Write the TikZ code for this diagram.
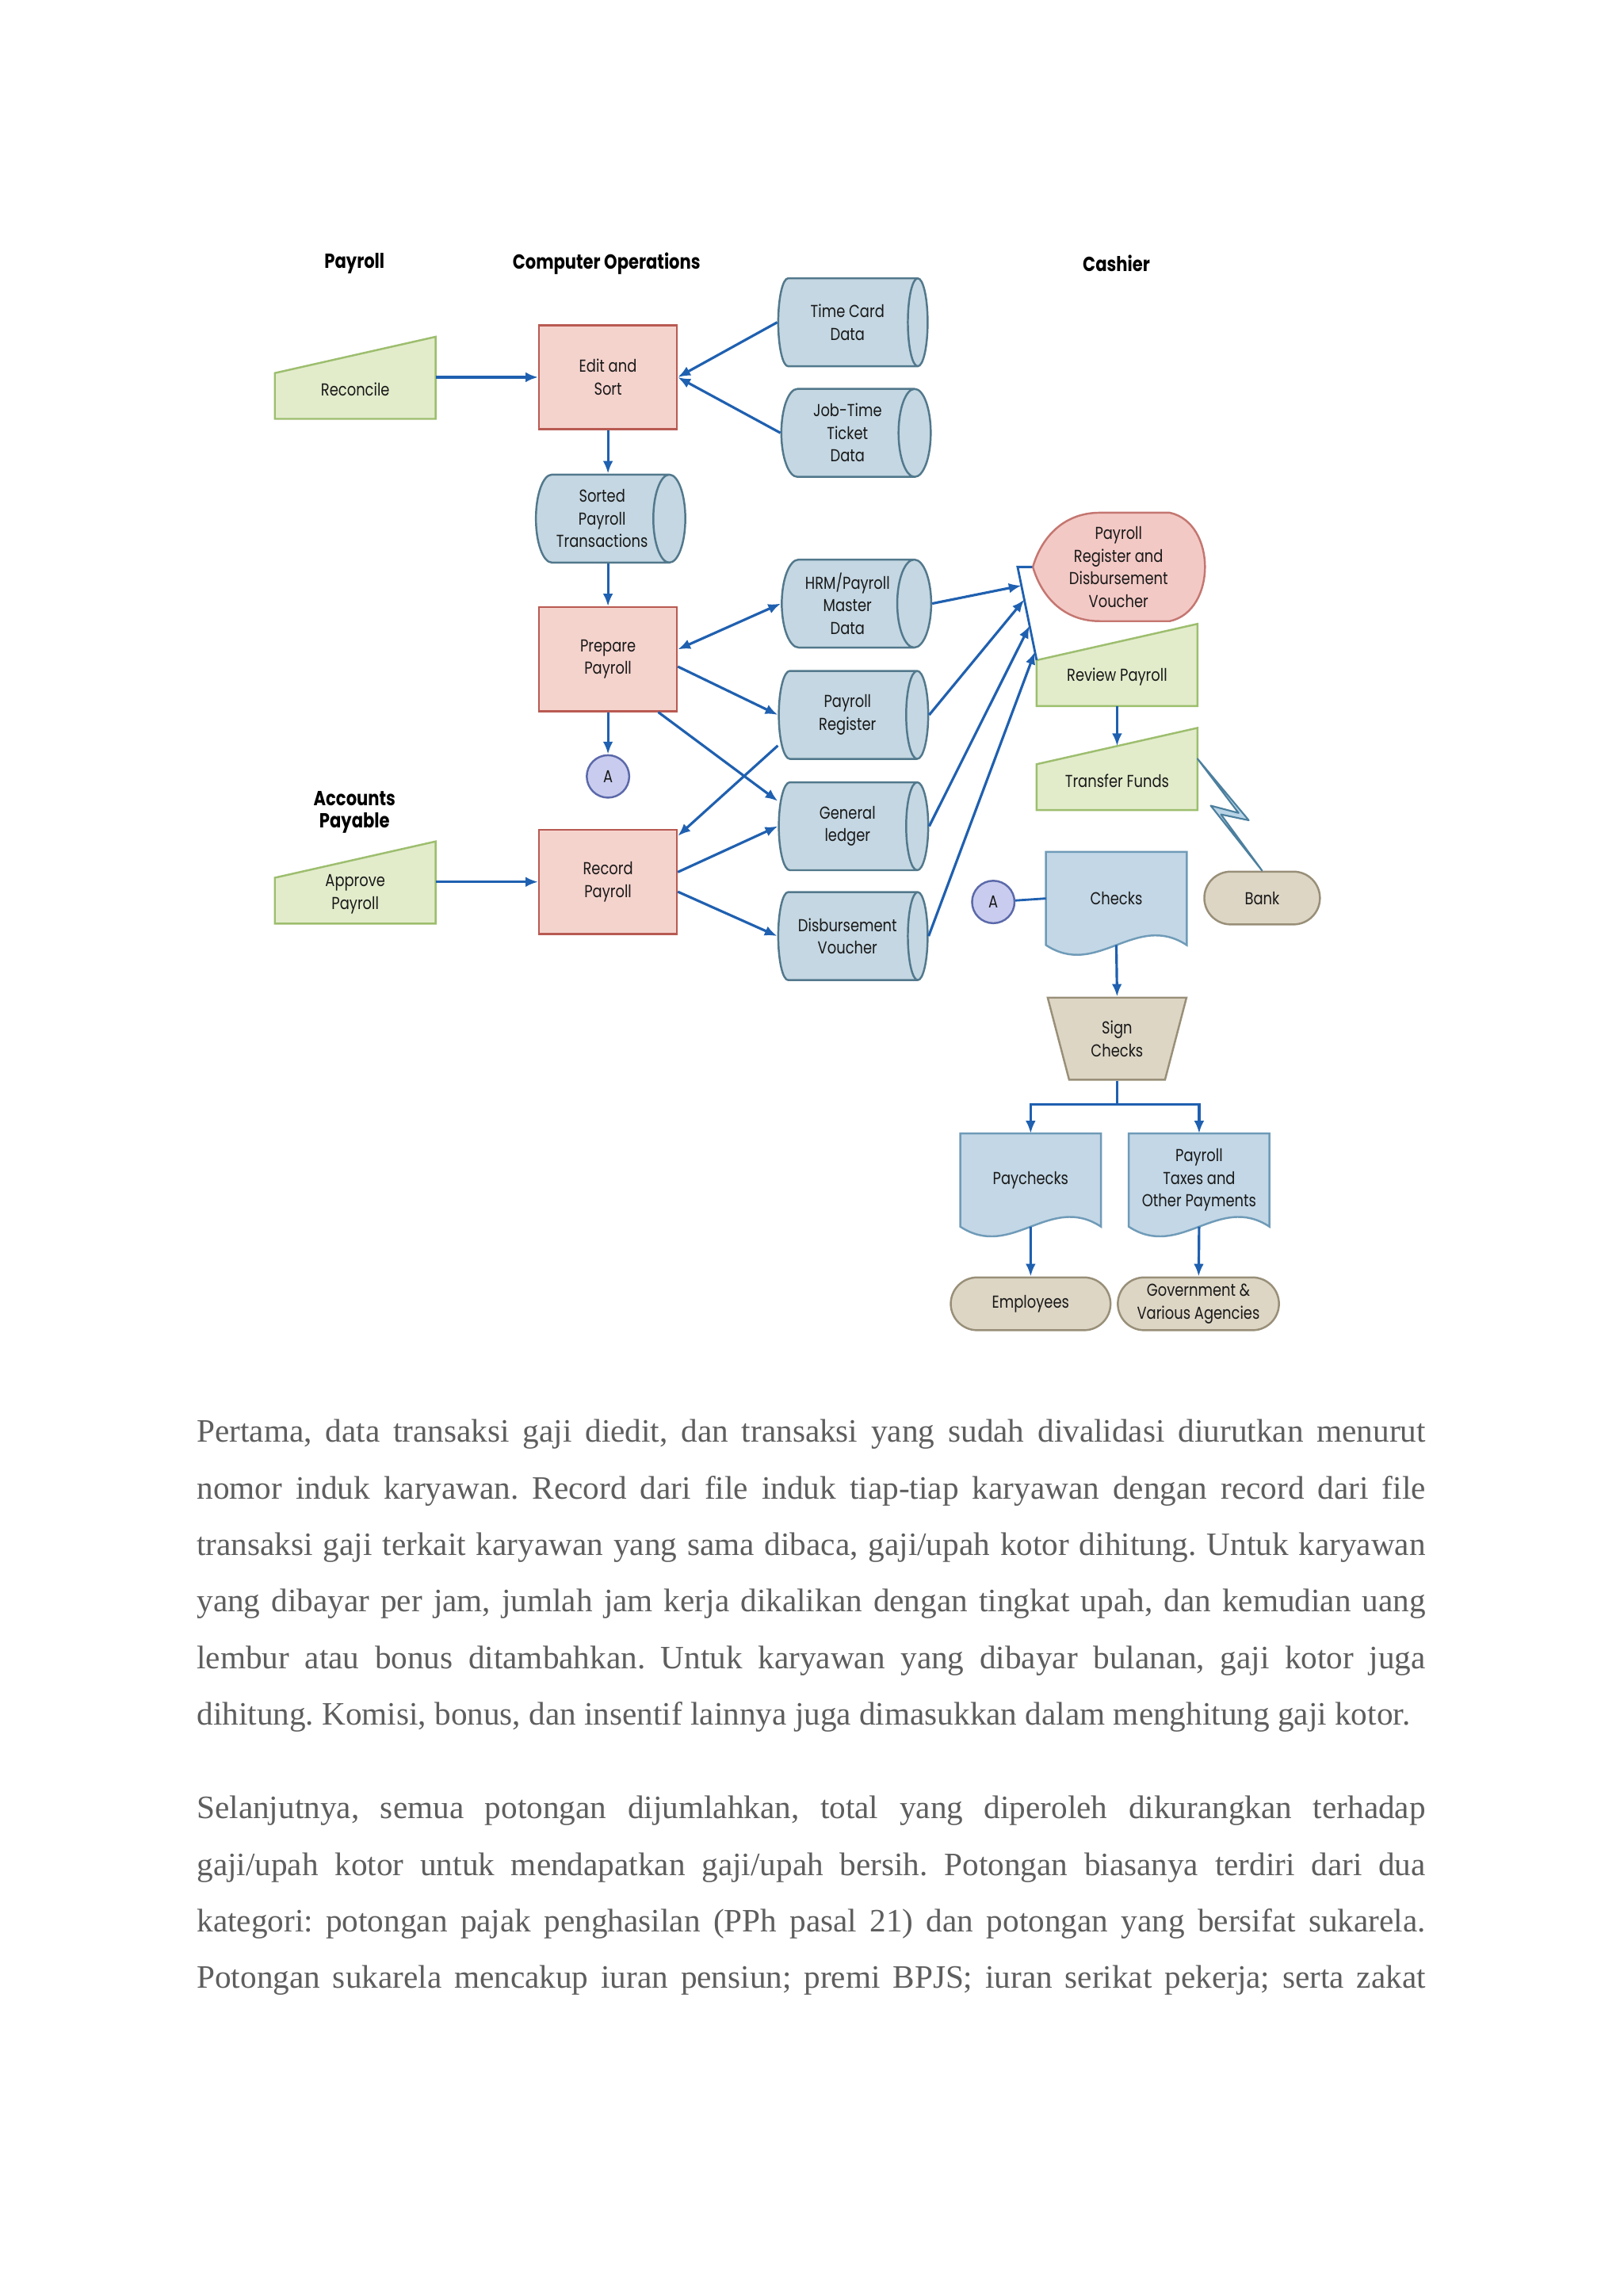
\documentclass[tikz,border=0pt]{standalone}
\usepackage{fontspec}
\usepackage{tikz}
\usetikzlibrary{arrows.meta,calc,shapes.geometric,shapes.misc,backgrounds}
\newfontfamily\chartfont[FakeStretch=0.82]{Poppins}
\newfontfamily\bodyfont{Liberation Serif}

\definecolor{arrowblue}{HTML}{1F60B0}
\definecolor{procfill}{HTML}{F5D3CD}
\definecolor{procdraw}{HTML}{B85A52}
\definecolor{manfill}{HTML}{E2ECCB}
\definecolor{mandraw}{HTML}{9DBE6E}
\definecolor{cylfill}{HTML}{C4D7E2}
\definecolor{cyldraw}{HTML}{52788C}
\definecolor{docfill}{HTML}{C3D7E6}
\definecolor{docdraw}{HTML}{6F9BB8}
\definecolor{termfill}{HTML}{DDD6C5}
\definecolor{termdraw}{HTML}{998F78}
\definecolor{confill}{HTML}{C9CCEE}
\definecolor{condraw}{HTML}{5B69AA}
\definecolor{dispfill}{HTML}{F3C9C5}
\definecolor{dispdraw}{HTML}{C47670}
\definecolor{boltfill}{HTML}{B8D4E6}
\definecolor{boltdraw}{HTML}{4C7F9E}
\definecolor{bodygray}{HTML}{5E5E5E}

\begin{document}
\begin{tikzpicture}[
    x=0.5246pt, y=-0.5246pt,
    >={Latex[length=4.5pt,width=3.6pt]},
    lbl/.style={font=\chartfont\fontsize{6.2pt}{8.1pt}\selectfont, align=center, text=black!90, inner sep=0pt},
    head/.style={font=\chartfont\bfseries\fontsize{7.3pt}{7.9pt}\selectfont, align=center, inner sep=0pt},
    process/.style={lbl, draw=procdraw, fill=procfill, line width=0.7pt, minimum width=49.3pt, minimum height=37.2pt},
    datafile/.style={lbl, cylinder, shape aspect=0.55, draw=cyldraw, fill=cylfill, line width=0.7pt, minimum height=53.5pt, minimum width=31.5pt},
    manual/.style={lbl, minimum width=57.2pt, minimum height=20.5pt},
    docnode/.style={lbl, minimum width=50pt, minimum height=33pt},
    terminal/.style={lbl, rounded rectangle, draw=termdraw, fill=termfill, line width=0.7pt, minimum height=18.9pt},
    connector/.style={lbl, circle, draw=condraw, fill=confill, line width=0.7pt, minimum size=15.2pt},
    signbox/.style={lbl, trapezium, shape border rotate=180, trapezium angle=72, trapezium stretches=true, draw=termdraw, fill=termfill, line width=0.7pt, minimum width=49.8pt, minimum height=29.4pt},
    manshape/.style={draw=mandraw, fill=manfill, line width=0.7pt},
    docshape/.style={draw=docdraw, fill=docfill, line width=0.7pt},
    dispshape/.style={draw=dispdraw, fill=dispfill, line width=0.7pt},
    bolt/.style={draw=boltdraw, fill=boltfill, line width=0.6pt, line join=round},
    arrow/.style={->, draw=arrowblue, line width=0.9pt},
    link/.style={draw=arrowblue, line width=0.8pt},
    para/.style={anchor=base west, text width=440pt, align=justify, inner sep=0pt, text=bodygray, font=\bodyfont\fontsize{11.7pt}{20.25pt}\selectfont}
]
\useasboundingbox (0,0) rectangle (1108,1567.3);

% column heads
\node[head] (hpay) at (242,180) {Payroll};
\node[head] (hcomp) at (414,180) {Computer Operations};
\node[head] (hcash) at (762,180) {Cashier};
\node[head] (hap) at (242,554.5) {Accounts\\Payable};

% payroll and computer operations
\node[manual] (recon) at (242.5,266) {Reconcile};
\node[process] (edit) at (415,257.5) {Edit and\\Sort};
\node[datafile] (timecard) at (578.5,220) {Time Card\\Data};
\node[datafile] (jobtime) at (578.5,295.5) {Job-Time\\Ticket\\Data};
\node[datafile] (sorted) at (411,354) {Sorted\\Payroll\\Transactions};
\node[datafile] (hrm) at (578.5,412) {HRM/Payroll\\Master\\Data};
\node[process] (prepare) at (415,450) {Prepare\\Payroll};
\node[datafile] (payreg) at (578.5,488) {Payroll\\Register};
\node[connector] (conA1) at (415,530) {A};
\node[datafile] (ledger) at (578.5,564) {General\\ledger};
\node[process] (record) at (415,602) {Record\\Payroll};
\node[manual] (approve) at (242.5,610.5) {Approve\\Payroll};
\node[datafile] (voucher) at (578.5,639) {Disbursement\\Voucher};

% cashier
\node[lbl, minimum width=61.4pt, minimum height=38.8pt] (disp) at (763.5,387) {Payroll\\Register and\\Disbursement\\Voucher};
\node[manual] (review) at (762.5,462) {Review Payroll};
\node[manual] (transfer) at (762.5,533) {Transfer Funds};
\node[terminal, minimum width=41.4pt] (bank) at (861.5,613) {Bank};
\node[connector] (conA2) at (678,615.7) {A};
\node[docnode] (checks) at (762,613.3) {Checks};
\node[signbox] (sign) at (762.5,709) {Sign\\Checks};
\node[docnode] (paychecks) at (703.5,805.5) {Paychecks};
\node[docnode] (taxes) at (818.5,805.5) {Payroll\\Taxes and\\Other Payments};
\node[terminal, minimum width=57.2pt] (employees) at (703.5,890) {Employees};
\node[terminal, minimum width=57.7pt] (gov) at (818,890) {Government \&\\Various Agencies};

% outlines of the drawn symbols
\begin{pgfonlayer}{background}
\fill[white] (0,0) rectangle (1108,1567.3);
\foreach \n in {recon,approve,review,transfer}
    \filldraw[manshape] (\n.south west) -- (\n.south east) -- ([yshift=8.5pt]\n.north east) -- ([yshift=-4.5pt]\n.north west) -- cycle;
\foreach \n in {checks,paychecks,taxes}
    \filldraw[docshape] (\n.south west) -- (\n.north west) -- (\n.north east) -- (\n.south east) .. controls +(-35,-23) and +(35,23) .. (\n.south west) -- cycle;
\begin{scope}[shift={(disp.center)}]
    \filldraw[dispshape] (-58.5,0) .. controls (-52,-22) and (-36,-37) .. (-13,-37) -- (35,-37)
        .. controls (67,-30) and (67,30) .. (35,37) -- (-13,37)
        .. controls (-36,37) and (-52,22) .. (-58.5,0) -- cycle;
\end{scope}
\end{pgfonlayer}

% flows
\draw[arrow] (recon.east |- edit.west) -- (edit.west);
\draw[arrow] (timecard.west) -- (edit.east);
\draw[arrow] (jobtime.west) -- (edit.east);
\draw[arrow] (edit) -- (edit |- sorted.north);
\draw[arrow] (sorted.south -| prepare) -- (prepare);
\draw[arrow, <->] (prepare.8) -- (hrm.west);
\draw[arrow] (prepare.-6) -- (payreg.west);
\draw[arrow] ([xshift=-7pt]prepare.south east) -- ([yshift=9pt]ledger.west);
\draw[arrow] (prepare) -- (conA1);
\draw[arrow] ([yshift=-11pt]payreg.west) -- ([yshift=-2.5pt]record.north east);
\draw[arrow] (record.8) -- (ledger.west);
\draw[arrow] (record.-8) -- (voucher.west);
\draw[arrow] (approve.east |- record.west) -- (record.west);

\coordinate (revtl) at ([yshift=-4.5pt]review.north west);
\draw[link] (disp.west) -- ++(-10,0) coordinate (brk) -- (revtl);
\draw[arrow] (hrm.east) -- ($(brk)!0.2!(revtl)$);
\draw[arrow] (payreg.east) -- ($(brk)!0.35!(revtl)$);
\draw[arrow] (ledger.east) -- ($(brk)!0.63!(revtl)$);
\draw[arrow] (voucher.east) -- ($(brk)!0.91!(revtl)$);
\draw[arrow] (review) -- ([yshift=2pt]transfer.north);
\filldraw[bolt] ([yshift=7.9pt]transfer.east) coordinate (bs) -- ++(35,42) -- ++(-19,-4) -- (bank.north)
    -- ($(bs)+(9,32)$) -- ($(bs)+(28,37)$) -- cycle;

\draw[link] (conA2) -- (checks.west);
\draw[arrow] (checks.south) -- (sign.north);
\draw[arrow] (sign.south) -- ++(0,16) -| (paychecks.north);
\draw[arrow] (sign.south) -- ++(0,16) -| (taxes.north);
\draw[arrow] (paychecks.south) -- (employees);
\draw[arrow] (taxes.south) -- (gov);

% text below the chart
\node[para] (para1) at (134,984.5) {\frenchspacing\tolerance=10000 \hyphenpenalty=10000 \exhyphenpenalty=10000
Pertama, data transaksi gaji diedit, dan transaksi yang sudah divalidasi diurutkan menurut\linebreak
nomor induk karyawan. Record dari file induk tiap-tiap karyawan dengan record dari file\linebreak
transaksi gaji terkait karyawan yang sama dibaca, gaji/upah kotor dihitung. Untuk karyawan\linebreak
yang dibayar per jam, jumlah jam kerja dikalikan dengan tingkat upah, dan kemudian uang\linebreak
lembur atau bonus ditambahkan. Untuk karyawan yang dibayar bulanan, gaji kotor juga\linebreak
dihitung. Komisi, bonus, dan insentif lainnya juga dimasukkan dalam menghitung gaji kotor.\par};
\node[para] (para2) at (134,1241.5) {\frenchspacing\tolerance=10000 \hyphenpenalty=10000 \exhyphenpenalty=10000 \parfillskip=0pt
Selanjutnya, semua potongan dijumlahkan, total yang diperoleh dikurangkan terhadap\linebreak
gaji/upah kotor untuk mendapatkan gaji/upah bersih. Potongan biasanya terdiri dari dua\linebreak
kategori: potongan pajak penghasilan (PPh pasal 21) dan potongan yang bersifat sukarela.\linebreak
Potongan sukarela mencakup iuran pensiun; premi BPJS; iuran serikat pekerja; serta zakat\par};
\end{tikzpicture}
\end{document}
